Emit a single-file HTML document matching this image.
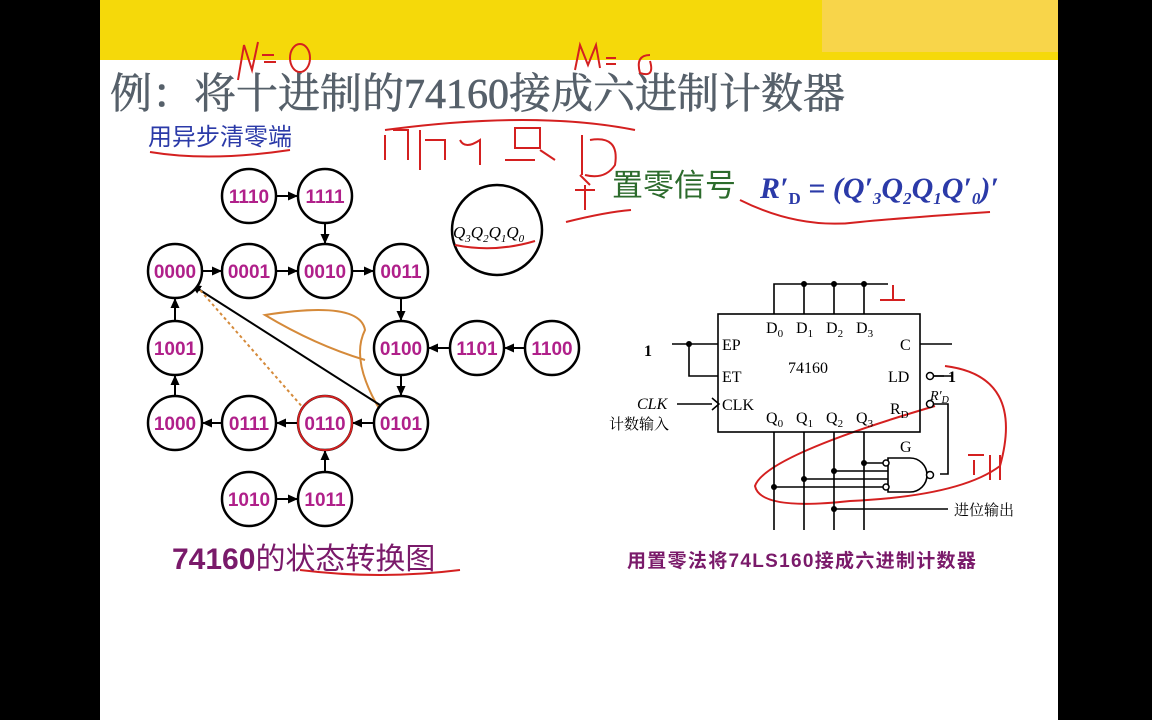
<html><head><style>body{margin:0;background:#000;width:1152px;height:720px;overflow:hidden;position:relative;font-family:"Liberation Sans","Noto Sans CJK SC",sans-serif}</style></head><body>
<svg width="1152" height="720" style="position:absolute;left:0;top:0" font-family="Liberation Sans, Noto Sans CJK SC, sans-serif">
<rect x="100" y="0" width="958" height="720" fill="#fff"/>
<rect x="100" y="0" width="958" height="60" fill="#f5d90a"/>
<rect x="822" y="0" width="236" height="52" fill="#f8d54a"/>
<text x="110" y="108" font-size="42" fill="#56606a" stroke="#56606a" stroke-width="0.6" font-family="Liberation Serif, Noto Serif CJK SC, serif">例：将十进制的74160接成六进制计数器</text>
<text x="148" y="145" font-size="24" fill="#2b3aa8">用异步清零端</text>
<text x="612" y="196" font-size="31" fill="#2c6b2c">置零信号</text>
<text x="760" y="198" font-size="30" fill="#2b3aa8" font-style="italic" font-weight="bold" font-family="Liberation Serif, serif">R′<tspan font-size="17" dy="6" font-style="normal">D</tspan><tspan dy="-6"> = (Q′</tspan><tspan font-size="17" dy="6">3</tspan><tspan dy="-6">Q</tspan><tspan font-size="17" dy="6">2</tspan><tspan dy="-6">Q</tspan><tspan font-size="17" dy="6">1</tspan><tspan dy="-6">Q′</tspan><tspan font-size="17" dy="6">0</tspan><tspan dy="-6">)′</tspan></text>
<g fill="none" stroke="#d42020" stroke-width="2">
<path d="M238 80 L244 45 L252 70 L258 42 M262 55 h12 M264 62 h12 M290 58 a10 14 0 1 0 20 0 a10 14 0 1 0 -20 0"/>
<path d="M575 70 L580 45 L588 65 L596 45 L600 68 M606 58 h10 M606 64 h10 M650 55 q-15 0 -10 18 q15 5 10 -12"/>
<path d="M385 135 v25 M393 130 h15 v30 M420 130 v40 M425 140 h20 v20 M460 140 q5 10 20 0 v25"/>
<path d="M515 128 h25 v20 h-25z M505 160 l30 0 M540 150 l15 10"/>
<path d="M582 135 v40 M590 140 q30 -5 25 25 q-10 15 -30 10"/>
<path d="M580 175 l10 10 M575 190 h20 M585 185 v25"/>
<path d="M566 222 q40 -10 65 -12 M740 200 q60 30 120 22 q40 -4 130 -10"/>
<path d="M150 152 q60 10 140 -2 M385 130 q150 -20 250 0"/>
<path d="M300 570 q80 10 160 0"/>
<path d="M880 300 h25 M893 285 v15"/>
<path d="M380 410 q-30 -50 -15 -80 q-5 -30 -100 -15 q50 30 100 45" stroke="#d58a3a"/>
<path d="M945 366 q80 10 55 100 q-40 30 -150 35 q-90 10 -95 -15 q10 -30 180 -80"/>
<path d="M968 455 h16 M974 460 v15 M990 455 v25 M1000 455 v25"/>
<path d="M325 450 v20 M310 405 q-10 30 20 40 q25 -10 20 -30 q-20 -20 -40 -10"/>
</g>
<circle cx="497" cy="230" r="45" fill="none" stroke="#000" stroke-width="2.5"/>
<text x="453" y="238" font-size="17" font-style="italic" font-family="Liberation Serif, serif">Q<tspan font-size="11" dy="4">3</tspan><tspan dy="-4">Q</tspan><tspan font-size="11" dy="4">2</tspan><tspan dy="-4">Q</tspan><tspan font-size="11" dy="4">1</tspan><tspan dy="-4">Q</tspan><tspan font-size="11" dy="4">0</tspan></text>
<path d="M455 245 q40 8 80 -4" stroke="#d42020" stroke-width="2" fill="none"/>
<defs><marker id="a" markerUnits="userSpaceOnUse" markerWidth="10" markerHeight="10" refX="9" refY="5" orient="auto"><path d="M0 0.5L10 5L0 9.5z" fill="#000"/></marker></defs>
<g stroke="#000" stroke-width="2" marker-end="url(#a)">
<line x1="276" y1="196" x2="297" y2="196"/><line x1="325" y1="223" x2="325" y2="243"/>
<line x1="202" y1="271" x2="221" y2="271"/><line x1="276" y1="271" x2="297" y2="271"/><line x1="352" y1="271" x2="373" y2="271"/>
<line x1="401" y1="298" x2="401" y2="320"/><line x1="401" y1="375" x2="401" y2="395"/>
<line x1="525" y1="348" x2="505" y2="348"/><line x1="450" y1="348" x2="429" y2="348"/>
<line x1="374" y1="423" x2="353" y2="423"/><line x1="298" y1="423" x2="277" y2="423"/><line x1="222" y1="423" x2="203" y2="423"/>
<line x1="175" y1="396" x2="175" y2="376"/><line x1="175" y1="321" x2="175" y2="299"/>
<line x1="276" y1="499" x2="297" y2="499"/><line x1="325" y1="472" x2="325" y2="451"/>
<line x1="380" y1="405" x2="192" y2="285"/>
</g>
<line x1="305" y1="410" x2="200" y2="290" stroke="#d58a3a" stroke-width="2" stroke-dasharray="3 3"/>
<g fill="#fff" stroke="#000" stroke-width="2.5">
<circle cx="249" cy="196" r="27"/><circle cx="325" cy="196" r="27"/>
<circle cx="175" cy="271" r="27"/><circle cx="249" cy="271" r="27"/><circle cx="325" cy="271" r="27"/><circle cx="401" cy="271" r="27"/>
<circle cx="175" cy="348" r="27"/><circle cx="401" cy="348" r="27"/><circle cx="477" cy="348" r="27"/><circle cx="552" cy="348" r="27"/>
<circle cx="175" cy="423" r="27"/><circle cx="249" cy="423" r="27"/><circle cx="325" cy="423" r="27"/><circle cx="401" cy="423" r="27"/>
<circle cx="249" cy="499" r="27"/><circle cx="325" cy="499" r="27"/>
</g>
<circle cx="325" cy="423" r="27" fill="none" stroke="#d42020" stroke-width="2"/>
<g font-size="19" font-weight="bold" fill="#b0208a" text-anchor="middle">
<text x="249" y="203">1110</text><text x="325" y="203">1111</text>
<text x="175" y="278">0000</text><text x="249" y="278">0001</text><text x="325" y="278">0010</text><text x="401" y="278">0011</text>
<text x="175" y="355">1001</text><text x="401" y="355">0100</text><text x="477" y="355">1101</text><text x="552" y="355">1100</text>
<text x="175" y="430">1000</text><text x="249" y="430">0111</text><text x="325" y="430">0110</text><text x="401" y="430">0101</text>
<text x="249" y="506">1010</text><text x="325" y="506">1011</text>
</g>
<text x="172" y="569" font-size="30" font-weight="bold" fill="#7a1a6a">74160<tspan font-weight="normal">的状态转换图</tspan></text>
<text x="627" y="567" font-size="19" font-weight="bold" fill="#7a1a6a" letter-spacing="1.3">用置零法将74LS160接成六进制计数器</text>
<g stroke="#000" stroke-width="1.6" fill="none">
<rect x="718" y="314" width="202" height="118"/>
<path d="M774 314 V284 H888 M804 284 V314 M834 284 V314 M864 284 V314"/>
<path d="M672 344 H718 M689 344 V376 H718 M677 404 H712"/>
<path d="M920 344 H952 M934 376 H952 M934 404 H948 V474 H940"/>
<path d="M774 432 V530 M804 432 V530 M834 432 V530 M864 432 V530"/>
<path d="M864 463 H883 M834 471 H888 M804 479 H888 M774 487 H883 M834 509 H948"/>
<path d="M888 458 H910 A17 17 0 0 1 910 492 H888 Z"/>
</g>
<path d="M712 398 L719 404 L712 410" stroke="#000" fill="none" stroke-width="1.5"/>
<g fill="#fff" stroke="#000" stroke-width="1.5"><circle cx="930" cy="376" r="3.5"/><circle cx="930" cy="404" r="3.5"/><circle cx="886" cy="463" r="3"/><circle cx="886" cy="487" r="3"/><circle cx="930" cy="475" r="3.5"/></g>
<g fill="#000"><circle cx="804" cy="284" r="3"/><circle cx="834" cy="284" r="3"/><circle cx="864" cy="284" r="3"/><circle cx="689" cy="344" r="3"/><circle cx="864" cy="463" r="3"/><circle cx="834" cy="471" r="3"/><circle cx="804" cy="479" r="3"/><circle cx="774" cy="487" r="3"/><circle cx="834" cy="509" r="3"/></g>
<g font-family="Liberation Serif, Noto Serif CJK SC, serif" font-size="16" fill="#000">
<text x="766" y="333">D<tspan font-size="11" dy="4">0</tspan></text><text x="796" y="333">D<tspan font-size="11" dy="4">1</tspan></text><text x="826" y="333">D<tspan font-size="11" dy="4">2</tspan></text><text x="856" y="333">D<tspan font-size="11" dy="4">3</tspan></text>
<text x="722" y="350">EP</text><text x="722" y="382">ET</text><text x="722" y="410">CLK</text>
<text x="788" y="373">74160</text><text x="900" y="350">C</text><text x="888" y="382">LD</text><text x="890" y="414">R<tspan font-size="11" dy="4">D</tspan></text>
<text x="766" y="423">Q<tspan font-size="11" dy="4">0</tspan></text><text x="796" y="423">Q<tspan font-size="11" dy="4">1</tspan></text><text x="826" y="423">Q<tspan font-size="11" dy="4">2</tspan></text><text x="856" y="423">Q<tspan font-size="11" dy="4">3</tspan></text>
<text x="644" y="356" font-weight="bold">1</text><text x="948" y="382" font-weight="bold">1</text>
<text x="637" y="409" font-style="italic">CLK</text><text x="609" y="429" font-size="15">计数输入</text>
<text x="930" y="400" font-style="italic" font-size="14">R′<tspan font-size="10" dy="3">D</tspan></text>
<text x="900" y="452">G</text><text x="954" y="515" font-size="15">进位输出</text>
</g>
<line x1="934" y1="376" x2="944" y2="376" stroke="#000" stroke-width="1.5"/>
</svg>
</body></html>
